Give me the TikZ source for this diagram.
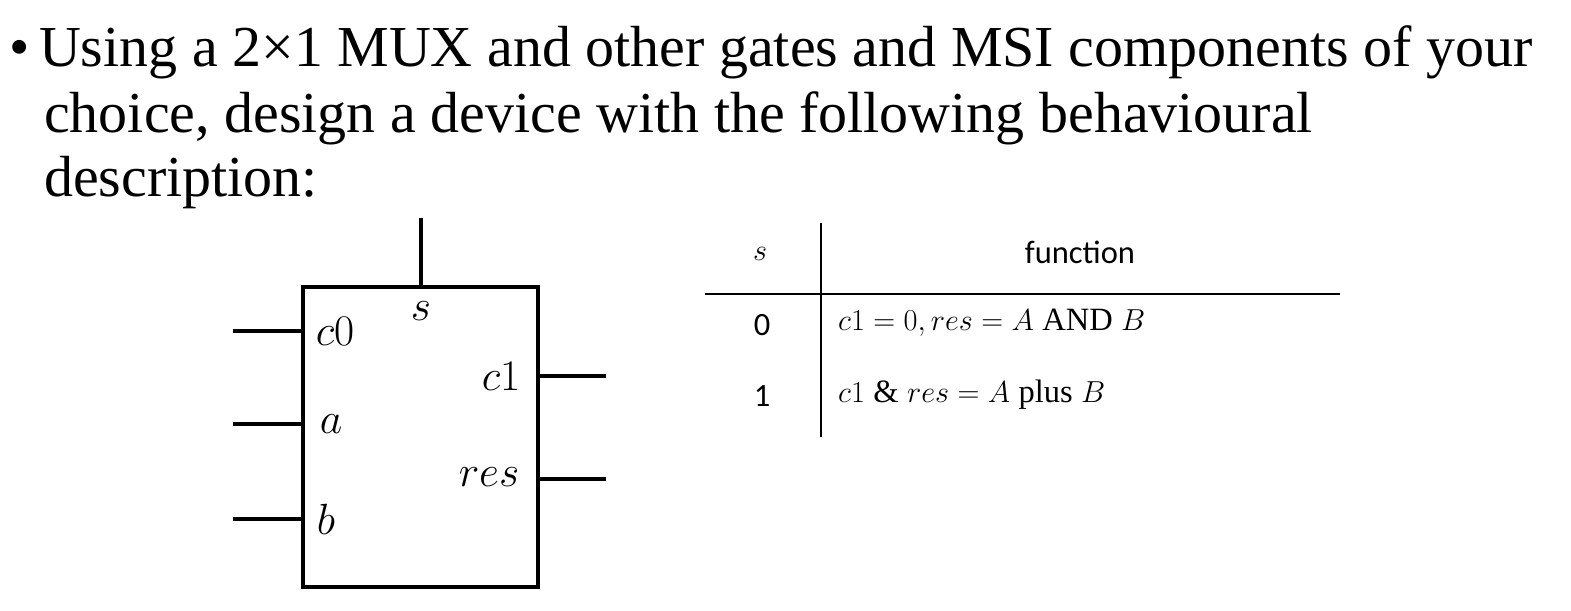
\documentclass[tikz,border=0pt]{standalone}
\usepackage{fontspec}
\setmainfont{Liberation Serif}
\newfontfamily\calfont{Carlito}
\begin{document}
\begin{tikzpicture}[x=0.02cm,y=-0.02cm,
  wire/.style={line width=2pt},
  head/.style={anchor=west,font=\fontsize{33}{40}\selectfont},
  lbl/.style={font=\fontsize{24}{28}\selectfont},
  tbl/.style={font=\calfont\fontsize{18.5}{22}\selectfont}]
\useasboundingbox (0,0) rectangle (1571,611);
\node[head] (l1) at (3,52) {•\,Using a 2×1 MUX and other gates and MSI components of your};
\node[head] (l2) at (38,118) {choice, design a device with the following behavioural};
\node[head] (l3) at (38,183) {description:};
\draw[wire] (303,287) rectangle (538,587);
\coordinate (st) at (421,218); \coordinate (sb) at (421,287);
\draw[wire] (st) -- (sb);
\foreach \n/\y in {c0/331,a/424,b/519}{
  \coordinate (\n o) at (233,\y); \coordinate (\n i) at (303,\y);
  \draw[wire] (\n o) -- (\n i);}
\foreach \n/\y in {c1/376,res/479}{
  \coordinate (\n i) at (538,\y); \coordinate (\n o) at (606,\y);
  \draw[wire] (\n i) -- (\n o);}
\node[lbl] (tc0) at (335,331) {$c0$};
\node[lbl] (ts) at (421,311) {$s$};
\node[lbl] (tc1) at (501,376) {$c1$};
\node[lbl] (ta) at (331,424) {$a$};
\node[lbl] (tb) at (326,519) {$b$};
\node[lbl] (tres) at (489,477) {$res$};
\draw[line width=1.2pt] (821,223) -- (821,437);
\draw[line width=1.2pt] (705,294) -- (1340,294);
\node[tbl] (hs) at (760,254) {$s$};
\node[tbl] (hf) at (1080,252) {function};
\node[tbl] (r0) at (762,325) {0};
\node[tbl] (r1) at (762,396) {1};
\node[tbl,anchor=west] (f0) at (832,323) {$c1=0,res=A\;\mathrm{AND}\;B$};
\node[tbl,anchor=west] (f1) at (832,395) {$c1\;\&\;res=A\;\mathrm{plus}\;B$};
\end{tikzpicture}
\end{document}
